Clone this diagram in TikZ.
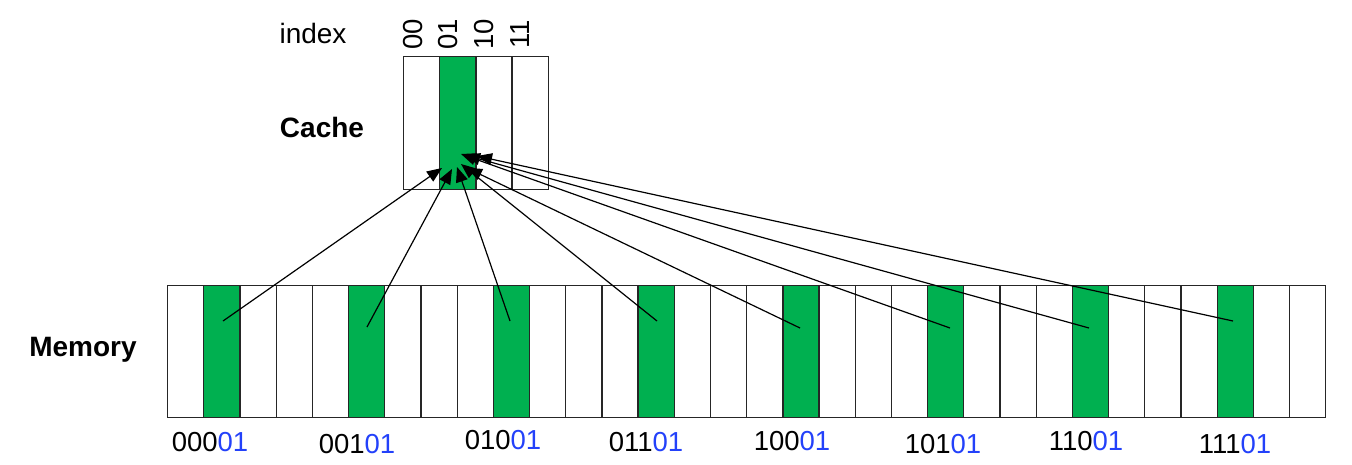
\documentclass[tikz,border=0pt]{standalone}
\usepackage{fontspec}
\setmainfont{Liberation Sans}
\usetikzlibrary{arrows.meta}
\definecolor{cellgreen}{RGB}{0,176,80}
\definecolor{idxblue}{RGB}{35,65,250}
\begin{document}
\begin{tikzpicture}[x=1pt,y=-1pt,
  cell/.style={draw=black!85,line width=1.3pt,inner sep=0pt,minimum width=36.19pt,minimum height=132pt,anchor=north west},
  ccell/.style={cell,minimum width=36.15pt,minimum height=133pt},
  hot/.style={fill=cellgreen},
  lbl/.style={font=\fontsize{27.5}{30}\selectfont,inner sep=0pt},
  blbl/.style={font=\fontsize{28}{30}\selectfont\bfseries,inner sep=0pt},
  arr/.style={line width=1.2pt,-{Triangle[length=15pt,width=12pt]}}]
\useasboundingbox (0,0) rectangle (1352,464);
% memory cells
\foreach \i in {0,...,31}{
  \pgfmathtruncatemacro{\r}{mod(\i,4)}
  \ifnum\r=1
    \node[cell,hot] (m\i) at ({167+36.19*\i},285) {};
  \else
    \node[cell] (m\i) at ({167+36.19*\i},285) {};
  \fi
}
% cache cells
\node[ccell] (c0) at (403,56) {};
\node[ccell,hot] (c1) at (439.15,56) {};
\node[ccell] (c2) at (475.3,56) {};
\node[ccell] (c3) at (511.45,56) {};
% labels
\node[lbl,font=\fontsize{28}{30}\selectfont] (idx) at (313,33) {index};
\node[lbl,rotate=90] (i00) at (413,34) {00};
\node[lbl,rotate=90] (i01) at (448,34) {01};
\node[lbl,rotate=90] (i10) at (484,34) {10};
\node[lbl,rotate=90] (i11) at (520,34) {11};
\node[blbl] (cachelbl) at (322,127) {Cache};
\node[blbl] (memlbl) at (83,350) {Memory};
\node[lbl] (a1) at (210,442) {000\textcolor{idxblue}{01}};
\node[lbl] (a2) at (357,444) {001\textcolor{idxblue}{01}};
\node[lbl] (a3) at (503,440) {010\textcolor{idxblue}{01}};
\node[lbl] (a4) at (646,442) {011\textcolor{idxblue}{01}};
\node[lbl] (a5) at (792,441) {100\textcolor{idxblue}{01}};
\node[lbl] (a6) at (943,444) {101\textcolor{idxblue}{01}};
\node[lbl] (a7) at (1086,441) {110\textcolor{idxblue}{01}};
\node[lbl] (a8) at (1235,444) {111\textcolor{idxblue}{01}};
% arrow endpoints
\coordinate (s1) at (223,321);
\coordinate (s2) at (367,327);
\coordinate (s3) at (510,321);
\coordinate (s4) at (657,321);
\coordinate (s5) at (800,328);
\coordinate (s6) at (950,328);
\coordinate (s7) at (1089,328);
\coordinate (s8) at (1233,321);
\coordinate (t1) at (442,168);
\coordinate (t2) at (452,169);
\coordinate (t3) at (457,167);
\coordinate (t4) at (461,164);
\coordinate (t5) at (467,168);
\coordinate (t6) at (461,154);
\coordinate (t7) at (465,155);
\coordinate (t8) at (477,156);
\foreach \k in {1,...,8}{\draw[arr] (s\k) -- (t\k);}
\end{tikzpicture}
\end{document}
